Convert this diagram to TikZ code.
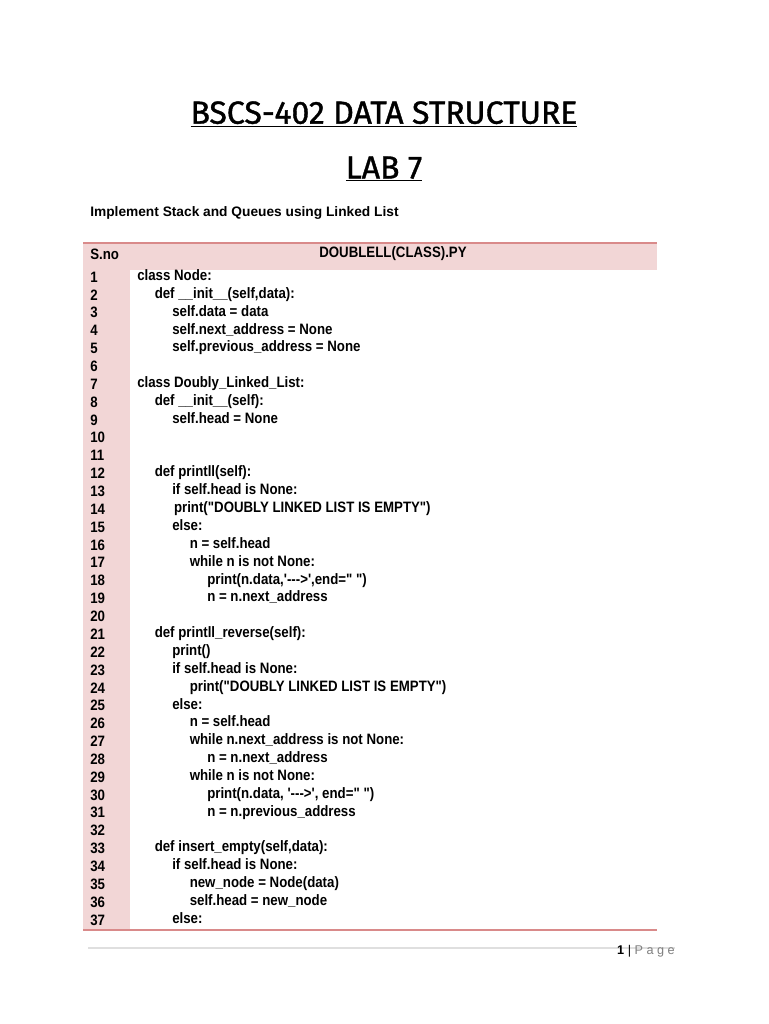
\documentclass[tikz,border=0pt]{standalone}
\usepackage{fontspec}
\setmainfont{Liberation Sans}
\newfontfamily\codef[FakeStretch=0.88]{Liberation Sans}
\newfontfamily\titf[FakeBold=1.2]{Fira Sans}
\definecolor{pinkbg}{HTML}{F2D6D6}
\definecolor{redline}{HTML}{D98A8A}
\begin{document}
\begin{tikzpicture}[x=0.75pt,y=-0.75pt,
  code/.style={anchor=west,inner sep=0pt,font=\codef\bfseries\fontsize{11.3}{13}\selectfont},
  num/.style={anchor=west,inner sep=0pt,font=\codef\bfseries\fontsize{11.3}{13}\selectfont}]
\useasboundingbox (0,0) rectangle (768,1024);
\fill[white] (0,0) rectangle (768,1024);
\node[font=\titf\fontsize{24}{27}\selectfont] (t1) at (384,114) {\underline{BSCS-402 DATA STRUCTURE}};
\node[font=\titf\fontsize{24}{27}\selectfont] (t2) at (384,169) {\underline{LAB 7}};
\node[code,font=\bfseries\fontsize{10.3}{12}\selectfont] (sub) at (90,213) {Implement Stack and Queues using Linked List};
\fill[pinkbg] (83,243) rectangle (657,270);
\fill[pinkbg] (83,270) rectangle (130,930);
\draw[redline,line width=1.2pt] (83,243) -- (657,243);
\draw[redline,line width=1.2pt] (83,930) -- (657,930);
\node[num] (hs) at (90,254) {S.no};
\node[num,anchor=center] (hd) at (393,254) {DOUBLELL(CLASS).PY};
\draw[gray!25,line width=0.8pt] (88,948) -- (675,948);
\node[anchor=east,inner sep=0pt,font=\fontsize{9.5}{11}\selectfont] (pg) at (675,951) {\textbf{1} | \color{gray}P a g e};
\foreach \n/\l/\t in {
1/0/{class Node:},
2/1/{def \_\_init\_\_(self,data):},
3/2/{self.data = data},
4/2/{self.next\_address = None},
5/2/{self.previous\_address = None},
6/0/{},
7/0/{class Doubly\_Linked\_List:},
8/1/{def \_\_init\_\_(self):},
9/2/{self.head = None},
10/0/{},11/0/{},
12/1/{def printll(self):},
13/2/{if self.head is None:},
14/2.1/{print("DOUBLY LINKED LIST IS EMPTY")},
15/2/{else:},
16/3/{n = self.head},
17/3/{while n is not None:},
18/4/{print(n.data,'--->',end=" ")},
19/4/{n = n.next\_address},
20/0/{},
21/1/{def printll\_reverse(self):},
22/2/{print()},
23/2/{if self.head is None:},
24/3/{print("DOUBLY LINKED LIST IS EMPTY")},
25/2/{else:},
26/3/{n = self.head},
27/3/{while n.next\_address is not None:},
28/4/{n = n.next\_address},
29/3/{while n is not None:},
30/4/{print(n.data, '--->', end=" ")},
31/4/{n = n.previous\_address},
32/0/{},
33/1/{def insert\_empty(self,data):},
34/2/{if self.head is None:},
35/3/{new\_node = Node(data)},
36/3/{self.head = new\_node},
37/2/{else:}}{
  \node[num] (n\n) at (90,{277+(\n-1)*17.86}) {\n};
  \node[code] (c\n) at ({137+\l*17.5},{277+(\n-1)*17.86}) {\strut\t};
}
\end{tikzpicture}
\end{document}
